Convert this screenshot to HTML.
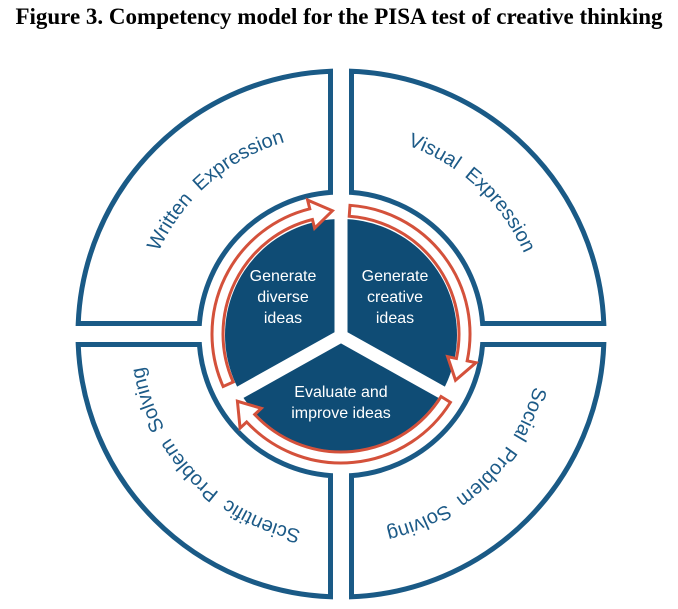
<!DOCTYPE html>
<html><head><meta charset="utf-8"><style>
html,body{margin:0;padding:0;background:#fff;width:678px;height:609px;overflow:hidden}
.t{position:absolute;left:0;top:4px;width:678px;text-align:center;font:bold 23px "Liberation Serif",serif;color:#000;white-space:nowrap}
svg{position:absolute;left:0;top:0}
</style></head><body>
<div class="t">Figure 3. Competency model for the PISA test of creative thinking</div>
<svg id="s" width="678" height="609" xmlns="http://www.w3.org/2000/svg">
<defs><path id="circ" d="M341,134 A200,200 0 1,1 340.99,134 Z" fill="none"/></defs>
<g id="q" fill="#fff" stroke="#1a5a86" stroke-width="5"></g>
<circle cx="341" cy="335" r="116" fill="#0f4c75"/>
<g id="y" stroke="#fff" stroke-width="13" stroke-linecap="butt"></g>
<g id="a" fill="#fff" stroke="#d4513b" stroke-width="3" stroke-linejoin="miter"></g>
<g font-family="Liberation Sans, sans-serif" font-size="20" fill="#1c5a87" word-spacing="5">
<text><textPath href="#circ" startOffset="88.6%" text-anchor="middle">Written Expression</textPath></text>
<text><textPath href="#circ" startOffset="11.9%" text-anchor="middle">Visual Expression</textPath></text>
<text><textPath href="#circ" startOffset="37.8%" text-anchor="middle">Social Problem Solving</textPath></text>
<text><textPath href="#circ" startOffset="62.8%" text-anchor="middle">Scientific Problem Solving</textPath></text>
</g>
<g font-family="Liberation Sans, sans-serif" font-size="16" fill="#fff" text-anchor="middle">
<text x="283" y="281">Generate</text><text x="283" y="302">diverse</text><text x="283" y="323">ideas</text>
<text x="395" y="281">Generate</text><text x="395" y="302">creative</text><text x="395" y="323">ideas</text>
<text x="341" y="397">Evaluate and</text><text x="341" y="418">improve ideas</text>
</g>
</svg>
<script>
var cx=341,cy=334,NS="http://www.w3.org/2000/svg";
function P(r,t){t=t*Math.PI/180;return [cx+r*Math.sin(t),cy-r*Math.cos(t)];}
function f(p){return p[0].toFixed(2)+","+p[1].toFixed(2);}
function add(g,d){var e=document.createElementNS(NS,"path");e.setAttribute("d",d);document.getElementById(g).appendChild(e);}
var g=10.5,ro=263,ri=142;
[[1,-1],[1,1],[-1,1],[-1,-1]].forEach(function(s){
 var sx=s[0],sy=s[1];
 var yo=Math.sqrt(ro*ro-g*g),yi=Math.sqrt(ri*ri-g*g);
 var A=[cx+sx*g,cy+sy*yo],B=[cx+sx*yo,cy+sy*g],C=[cx+sx*yi,cy+sy*g],D=[cx+sx*g,cy+sy*yi];
 var sw1=(sx*sy<0)?1:0, sw2=1-sw1;
 add("q","M"+f(A)+" A"+ro+","+ro+" 0 0,"+sw1+" "+f(B)+" L"+f(C)+" A"+ri+","+ri+" 0 0,"+sw2+" "+f(D)+" Z");
});
[0,120,240].forEach(function(t){var p=P(125,t);add("y","M"+cx+","+(cy+2)+" L"+f(p));});
function arrow(a0,a1){
 var r1=118,r2=129,h=10,rm=(r1+r2)/2,rl=109,rh=138;
 var ab=a1-h;
 var d="M"+f(P(r2,a0))+" A"+r2+","+r2+" 0 0,1 "+f(P(r2,ab))+" L"+f(P(rh,ab))+" L"+f(P(rm,a1))+" L"+f(P(rl,ab))+" L"+f(P(r1,ab))+" A"+r1+","+r1+" 0 0,0 "+f(P(r1,a0))+" Z";
 add("a",d);
}
arrow(246,356);arrow(4,112);arrow(122,237);
</script>
</body></html>
